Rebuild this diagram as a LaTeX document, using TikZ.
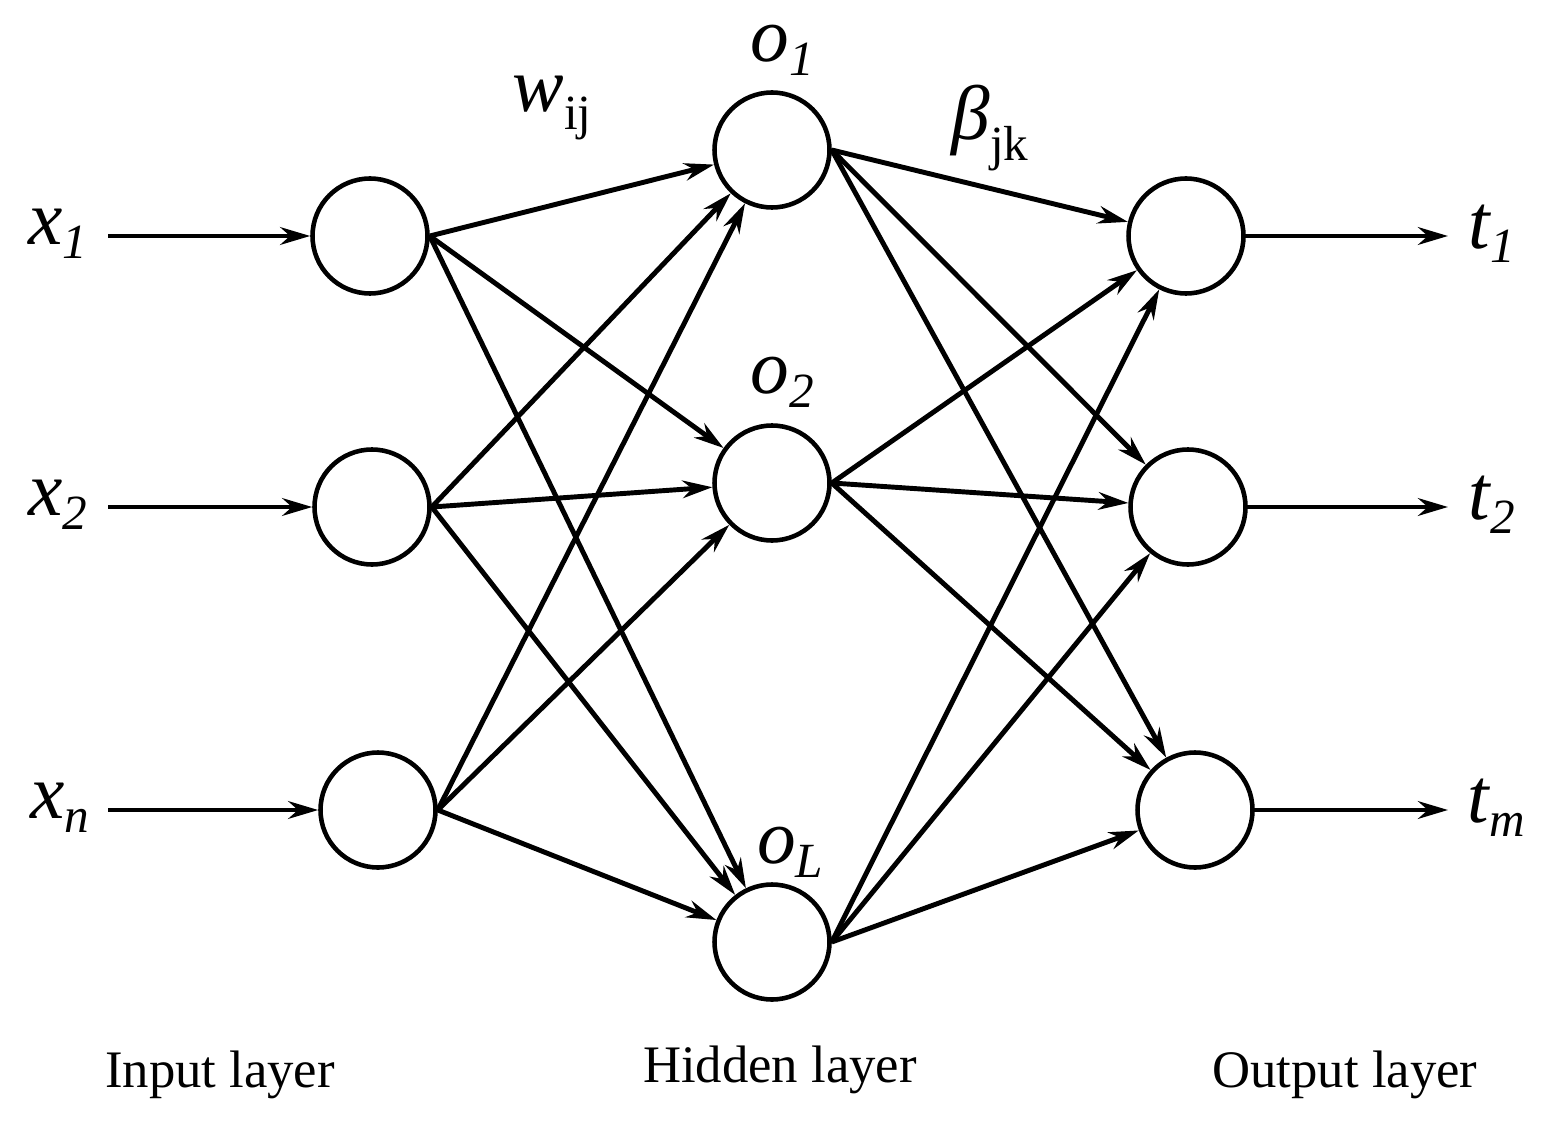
\documentclass[tikz,border=0pt]{standalone}
\usepackage{fontspec}
\setmainfont{Liberation Serif}
\usetikzlibrary{arrows.meta}
\begin{document}
\begin{tikzpicture}[x=0.02cm,y=-0.02cm,
  neu/.style={circle,draw,line width=2.6pt,minimum size=2.3cm,inner sep=0},
  con/.style={line width=2.8pt,-{Stealth[length=17pt,width=10pt]}},
  big/.style={font=\fontsize{44}{46}\selectfont\itshape},
  lay/.style={font=\fontsize{30}{34}\selectfont}]
\useasboundingbox (0,0) rectangle (1550,1131);
\node[neu] (i1) at (370,236) {};
\node[neu] (i2) at (372,507) {};
\node[neu] (i3) at (378,810) {};
\node[neu] (h1) at (772,150) {};
\node[neu] (h2) at (772,483) {};
\node[neu] (h3) at (772,942) {};
\node[neu] (o1) at (1186,236) {};
\node[neu] (o2) at (1188,507) {};
\node[neu] (o3) at (1195,810) {};
\node[big] (lx1) at (58,234) {x\raisebox{-0.4ex}{\fontsize{28}{28}\selectfont 1}};
\node[big] (lx2) at (58,505) {x\raisebox{-0.4ex}{\fontsize{28}{28}\selectfont 2}};
\node[big] (lx3) at (60,808) {x\raisebox{-0.4ex}{\fontsize{28}{28}\selectfont n}};
\coordinate (a1) at (108,236);
\coordinate (a2) at (108,507);
\coordinate (a3) at (108,810);
\draw[con] (a1) -- (i1);
\draw[con] (a2) -- (i2);
\draw[con] (a3) -- (i3);
\coordinate (b1) at (1448,236);
\coordinate (b2) at (1448,507);
\coordinate (b3) at (1448,810);
\draw[con] (o1) -- (b1);
\draw[con] (o2) -- (b2);
\draw[con] (o3) -- (b3);
\node[big] (lt1) at (1492,234) {t\raisebox{-0.4ex}{\fontsize{28}{28}\selectfont 1}};
\node[big] (lt2) at (1492,505) {t\raisebox{-0.4ex}{\fontsize{28}{28}\selectfont 2}};
\node[big] (lt3) at (1496,808) {t\raisebox{-0.4ex}{\fontsize{28}{28}\selectfont m}};
\foreach \a in {i1,i2,i3}{\foreach \b in {h1,h2,h3}{\draw[con] (\a.east) -- (\b);}}
\foreach \a in {h1,h2,h3}{\foreach \b in {o1,o2,o3}{\draw[con] (\a.east) -- (\b);}}
\node[big] (lo1) at (782,50) {o\raisebox{-0.4ex}{\fontsize{28}{28}\selectfont 1}};
\node[big] (lo2) at (782,382) {o\raisebox{-0.4ex}{\fontsize{28}{28}\selectfont 2}};
\node[big] (lo3) at (790,852) {o\raisebox{-0.4ex}{\fontsize{28}{28}\selectfont L}};
\node[big] (lw) at (552,108) {w\raisebox{-0.5ex}{\upshape\fontsize{28}{28}\selectfont ij}};
\node[big] (lb) at (990,128) {β\raisebox{-0.6ex}{\upshape\fontsize{28}{28}\selectfont jk}};
\node[lay] (L1) at (220,1075) {Input layer};
\node[lay] (L2) at (780,1070) {Hidden layer};
\node[lay] (L3) at (1345,1075) {Output layer};
\end{tikzpicture}
\end{document}
